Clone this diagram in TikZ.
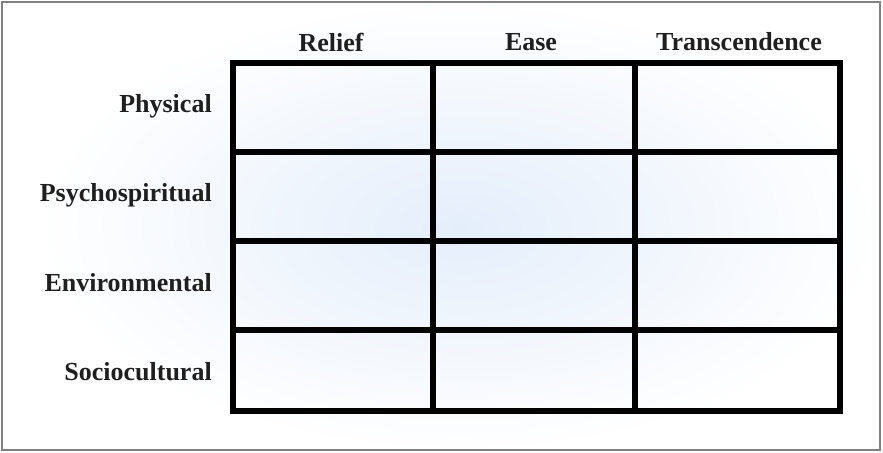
\documentclass[tikz,border=0pt]{standalone}
\usepackage{fontspec}
\setmainfont{Liberation Serif}
\begin{document}
\begin{tikzpicture}[x=0.75pt,y=-0.75pt,
  lab/.style={font=\bfseries\fontsize{19.5}{22}\selectfont,text=black!88,inner sep=0pt},
  grid/.style={line width=4pt,black}]
\useasboundingbox (0,0) rectangle (883,453);
\fill[white] (0,0) rectangle (883,453);
\shade[inner color={rgb,255:red,228;green,238;blue,251},outer color=white] (40,0) rectangle (880,453);
\draw[gray,line width=0.8pt] (2,2) rectangle (880,450);
\foreach \x in {233,433,635,840} \draw[grid] (\x,63) -- (\x,411);
\foreach \y in {63,152,241,330,411} \draw[grid] (230.3,\y) -- (842.7,\y);
\node[lab] (c1) at (331,42) {Relief};
\node[lab] (c2) at (531,42) {Ease};
\node[lab] (c3) at (739,42) {Transcendence};
\node[lab,anchor=east] (r1) at (212,106) {Physical};
\node[lab,anchor=east] (r2) at (212,195) {Psychospiritual};
\node[lab,anchor=east] (r3) at (212,283) {Environmental};
\node[lab,anchor=east] (r4) at (212,372) {Sociocultural};
\end{tikzpicture}
\end{document}
